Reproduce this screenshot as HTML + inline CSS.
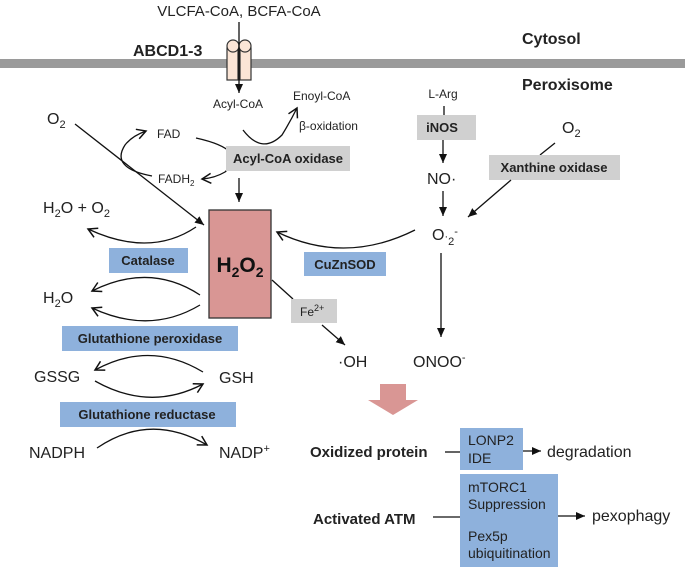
<!DOCTYPE html>
<html><head><meta charset="utf-8"><style>
body{margin:0;background:#fff}
svg{display:block;font-family:"Liberation Sans",sans-serif}
</style></head><body>
<svg width="685" height="567" viewBox="0 0 685 567">
<defs>
<marker id="a" markerWidth="10" markerHeight="10" refX="9" refY="5" orient="auto" markerUnits="userSpaceOnUse"><path d="M0,1 L9,5 L0,9 Z" fill="#111"/></marker>
<marker id="o" markerWidth="12" markerHeight="12" refX="10" refY="6" orient="auto" markerUnits="userSpaceOnUse"><path d="M1,1 L10,6 L1,11" fill="none" stroke="#111" stroke-width="1.5"/></marker>
</defs>
<rect x="0" y="59" width="685" height="9" fill="#9a9a9a"/>
<!-- transporter -->
<rect x="227" y="48" width="11" height="32" fill="#fbe5d6" stroke="#333" stroke-width="1.2"/>
<rect x="240" y="48" width="11" height="32" fill="#fbe5d6" stroke="#333" stroke-width="1.2"/>
<circle cx="233" cy="46" r="6" fill="#fbe5d6" stroke="#333" stroke-width="1.2"/>
<circle cx="245" cy="46" r="6" fill="#fbe5d6" stroke="#333" stroke-width="1.2"/>
<line x1="239" y1="22" x2="239" y2="93" stroke="#111" stroke-width="1.3" marker-end="url(#a)"/>
<text x="239" y="16" font-size="15" text-anchor="middle" fill="#222">VLCFA-CoA, BCFA-CoA</text>
<text x="133" y="56" font-size="16" font-weight="bold" fill="#222">ABCD1-3</text>
<text x="522" y="44" font-size="16" font-weight="bold" fill="#222">Cytosol</text>
<text x="522" y="90" font-size="16" font-weight="bold" fill="#222">Peroxisome</text>
<text x="238" y="108" font-size="12" text-anchor="middle" fill="#222">Acyl-CoA</text>
<text x="293" y="100" font-size="12" fill="#222">Enoyl-CoA</text>
<text x="299" y="130" font-size="12" fill="#222">β-oxidation</text>
<path d="M243,130 Q262,155 282,135 Q290,122 297,108" fill="none" stroke="#111" stroke-width="1.3" marker-end="url(#o)"/>
<text x="157" y="138" font-size="12" fill="#222">FAD</text>
<text x="158" y="183" font-size="12" fill="#222">FADH<tspan font-size="8" dy="3">2</tspan></text>
<path d="M196,138 Q250,150 225,172 Q215,178 202,179" fill="none" stroke="#111" stroke-width="1.3" marker-end="url(#o)"/>
<path d="M152,176 Q110,168 125,145 Q132,136 146,131" fill="none" stroke="#111" stroke-width="1.3" marker-end="url(#o)"/>
<rect x="226" y="146" width="124" height="25" fill="#d0d0d0"/>
<text x="288" y="163" font-size="13" font-weight="bold" text-anchor="middle" fill="#222">Acyl-CoA oxidase</text>
<line x1="239" y1="178" x2="239" y2="202" stroke="#111" stroke-width="1.3" marker-end="url(#a)"/>
<text x="47" y="124" font-size="16" fill="#222">O<tspan font-size="11" dy="4">2</tspan></text>
<line x1="75" y1="124" x2="204" y2="225" stroke="#111" stroke-width="1.3" marker-end="url(#a)"/>
<text x="43" y="213" font-size="16" fill="#222">H<tspan font-size="11" dy="4">2</tspan><tspan dy="-4">O + O</tspan><tspan font-size="11" dy="4">2</tspan></text>
<rect x="209" y="210" width="62" height="108" fill="#d99694" stroke="#333" stroke-width="1.3"/>
<text x="240" y="272" font-size="21" font-weight="bold" text-anchor="middle" fill="#111">H<tspan font-size="14" dy="5">2</tspan><tspan dy="-5">O</tspan><tspan font-size="14" dy="5">2</tspan></text>
<path d="M196,227 Q150,258 88,229" fill="none" stroke="#111" stroke-width="1.3" marker-end="url(#o)"/>
<rect x="109" y="248" width="79" height="25" fill="#8eb1dc"/>
<text x="148" y="265" font-size="13" font-weight="bold" text-anchor="middle" fill="#222">Catalase</text>
<text x="43" y="303" font-size="16" fill="#222">H<tspan font-size="11" dy="4">2</tspan><tspan dy="-4">O</tspan></text>
<path d="M200,295 Q150,262 92,291" fill="none" stroke="#111" stroke-width="1.3" marker-end="url(#o)"/>
<path d="M200,305 Q150,335 92,308" fill="none" stroke="#111" stroke-width="1.3" marker-end="url(#o)"/>
<rect x="62" y="326" width="176" height="25" fill="#8eb1dc"/>
<text x="150" y="343" font-size="13" font-weight="bold" text-anchor="middle" fill="#222">Glutathione peroxidase</text>
<text x="34" y="382" font-size="16" fill="#222">GSSG</text>
<text x="219" y="383" font-size="16" fill="#222">GSH</text>
<path d="M203,372 Q150,340 95,370" fill="none" stroke="#111" stroke-width="1.3" marker-end="url(#o)"/>
<path d="M95,381 Q150,412 203,384" fill="none" stroke="#111" stroke-width="1.3" marker-end="url(#o)"/>
<rect x="60" y="402" width="176" height="25" fill="#8eb1dc"/>
<text x="147" y="419" font-size="13" font-weight="bold" text-anchor="middle" fill="#222">Glutathione reductase</text>
<text x="29" y="458" font-size="16" fill="#222">NADPH</text>
<text x="219" y="458" font-size="16" fill="#222">NADP<tspan font-size="11" dy="-6">+</tspan></text>
<path d="M97,448 Q150,412 207,445" fill="none" stroke="#111" stroke-width="1.3" marker-end="url(#o)"/>
<!-- right -->
<line x1="272" y1="280" x2="293" y2="299" stroke="#111" stroke-width="1.3"/>
<rect x="291" y="299" width="46" height="24" fill="#d0d0d0"/>
<text x="300" y="316" font-size="12" fill="#222">Fe<tspan font-size="9" dy="-5">2+</tspan></text>
<line x1="322" y1="325" x2="345" y2="345" stroke="#111" stroke-width="1.3" marker-end="url(#a)"/>
<text x="338" y="367" font-size="16" fill="#222">·OH</text>
<text x="413" y="367" font-size="16" fill="#222">ONOO<tspan font-size="11" dy="-6">-</tspan></text>
<line x1="441" y1="253" x2="441" y2="337" stroke="#111" stroke-width="1.3" marker-end="url(#a)"/>
<text x="432" y="240" font-size="16" fill="#222">O<tspan font-size="11">·</tspan><tspan font-size="11" dy="5">2</tspan><tspan font-size="11" dy="-10">-</tspan></text>
<path d="M415,230 Q345,265 277,232" fill="none" stroke="#111" stroke-width="1.3" marker-end="url(#o)"/>
<rect x="304" y="252" width="82" height="24" fill="#8eb1dc"/>
<text x="345" y="269" font-size="13" font-weight="bold" text-anchor="middle" fill="#222">CuZnSOD</text>
<text x="443" y="98" font-size="12" text-anchor="middle" fill="#222">L-Arg</text>
<line x1="444" y1="106" x2="444" y2="115" stroke="#111" stroke-width="1.3"/>
<rect x="417" y="115" width="59" height="25" fill="#d0d0d0"/>
<text x="442" y="132" font-size="13" font-weight="bold" text-anchor="middle" fill="#222">iNOS</text>
<line x1="443" y1="140" x2="443" y2="163" stroke="#111" stroke-width="1.3" marker-end="url(#a)"/>
<text x="427" y="184" font-size="16" fill="#222">NO·</text>
<line x1="443" y1="191" x2="443" y2="216" stroke="#111" stroke-width="1.3" marker-end="url(#a)"/>
<text x="562" y="133" font-size="16" fill="#222">O<tspan font-size="11" dy="4">2</tspan></text>
<line x1="555" y1="143" x2="540" y2="155" stroke="#111" stroke-width="1.3"/>
<rect x="489" y="155" width="131" height="25" fill="#d0d0d0"/>
<text x="554" y="172" font-size="13" font-weight="bold" text-anchor="middle" fill="#222">Xanthine oxidase</text>
<line x1="511" y1="180" x2="468" y2="217" stroke="#111" stroke-width="1.3" marker-end="url(#a)"/>
<!-- bottom -->
<path d="M380,384 H406 V400 H418 L393,415 L368,400 H380 Z" fill="#d99694"/>
<text x="310" y="457" font-size="15" font-weight="bold" fill="#222">Oxidized protein</text>
<line x1="445" y1="452" x2="460" y2="452" stroke="#111" stroke-width="1.3"/>
<rect x="460" y="428" width="63" height="42" fill="#8eb1dc"/>
<text x="468" y="445" font-size="14" fill="#222">LONP2</text>
<text x="468" y="463" font-size="14" fill="#222">IDE</text>
<line x1="523" y1="451" x2="541" y2="451" stroke="#111" stroke-width="1.3" marker-end="url(#a)"/>
<text x="547" y="457" font-size="16" fill="#222">degradation</text>
<text x="313" y="524" font-size="15" font-weight="bold" fill="#222">Activated ATM</text>
<line x1="433" y1="517" x2="460" y2="517" stroke="#111" stroke-width="1.3"/>
<rect x="460" y="474" width="98" height="93" fill="#8eb1dc"/>
<text x="468" y="492" font-size="14" fill="#222">mTORC1</text>
<text x="468" y="509" font-size="14" fill="#222">Suppression</text>
<text x="468" y="541" font-size="14" fill="#222">Pex5p</text>
<text x="468" y="558" font-size="14" fill="#222">ubiquitination</text>
<line x1="558" y1="516" x2="585" y2="516" stroke="#111" stroke-width="1.3" marker-end="url(#a)"/>
<text x="592" y="521" font-size="16" fill="#222">pexophagy</text>
</svg>
</body></html>
